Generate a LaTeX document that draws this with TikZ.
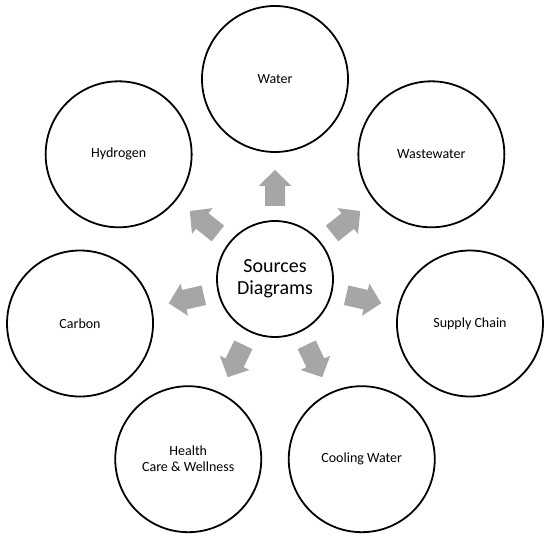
\documentclass[tikz,border=0pt]{standalone}
\usepackage{fontspec}
\setmainfont{Carlito}
\usetikzlibrary{calc}
\definecolor{arrowgrey}{HTML}{A6A6A6}
\begin{document}
\begin{tikzpicture}[x=1pt,y=1pt,
  outer/.style={circle,draw=black,line width=1.8pt,minimum size=146pt,inner sep=0pt,align=center,font=\fontsize{14}{16}\selectfont},
  hub/.style={circle,draw=black,line width=1.8pt,minimum size=116pt,inner sep=0pt,align=center,font=\fontsize{20}{22}\selectfont},
  blockarrow/.style={fill=arrowgrey,draw=none}]
\useasboundingbox (0,0) rectangle (550,544);
\coordinate (c) at (275,265);
\node[hub] (hub) at (c) {Sources\\Diagrams};
\def\R{200}
\node[outer] (water)   at ($(c)+(90:\R)$) {Water};
\node[outer] (hydro)   at ($(c)+(141.43:\R)$) {Hydrogen};
\node[outer] (carbon)  at ($(c)+(192.86:\R)$) {Carbon};
\node[outer] (health)  at ($(c)+(244.29:\R)$) {Health\\Care \& Wellness};
\node[outer] (cooling) at ($(c)+(295.71:\R)$) {Cooling Water};
\node[outer] (supply)  at ($(c)+(347.14:\R)$) {Supply Chain};
\node[outer] (waste)   at ($(c)+(38.57:\R)$) {Wastewater};
\foreach \a in {90,141.43,192.86,244.29,295.71,347.14,38.57}{
  \begin{scope}[shift={(c)},rotate=\a]
    \fill[blockarrow] (73,-10) -- (93,-10) -- (93,-16.5) -- (109,0) -- (93,16.5) -- (93,10) -- (73,10) -- cycle;
  \end{scope}
}
\end{tikzpicture}
\end{document}
